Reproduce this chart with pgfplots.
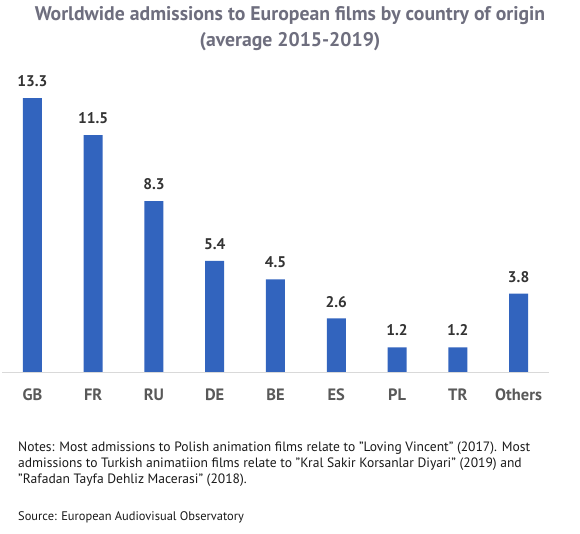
\documentclass[border=0pt]{standalone}
\usepackage{pgfplots}
\pgfplotsset{compat=1.18}
\usepackage{fontspec}
\setmainfont{PT Sans}
\definecolor{barblue}{RGB}{50,100,190}
\definecolor{titlegray}{RGB}{110,110,126}
\definecolor{tickgray}{RGB}{89,89,89}
\definecolor{valgray}{RGB}{51,51,51}
\definecolor{axisgray}{RGB}{217,217,217}
\newcommand{\q}{\symbol{34}}
\begin{document}
\begin{tikzpicture}
\useasboundingbox (0,0) rectangle (580bp,534bp);
\begin{axis}[
  at={(2bp,162bp)}, anchor=south west,
  scale only axis, width=547bp, height=288.4bp,
  xmin=-0.5, xmax=8.5, ymin=0, ymax=14,
  axis x line*=bottom, axis y line=none,
  x axis line style={draw=axisgray, line width=0.8bp, -},
  xtick=data,
  xticklabels={GB,FR,RU,DE,BE,ES,PL,TR,Others},
  major tick length=0pt,
  xticklabel style={font=\fontsize{16.5}{16.5}\selectfont\bfseries, text=tickgray, anchor=north, inner sep=0pt, yshift=-17bp},
  ybar, bar width=19bp,
  clip=false,
  nodes near coords,
  nodes near coords style={font=\fontsize{15.5}{15.5}\selectfont\bfseries, text=valgray, anchor=south, inner sep=0pt, yshift=11bp, /pgf/number format/.cd, fixed, fixed zerofill, precision=1, assume math mode=true},
]
\addplot[fill=barblue, draw=none] coordinates {(0,13.3) (1,11.5) (2,8.3) (3,5.4) (4,4.5) (5,2.6) (6,1.2) (7,1.2) (8,3.8)};
\end{axis}
\node[font=\fontsize{19.8}{26}\selectfont\bfseries, text=titlegray, align=center] at (290bp,505bp) {Worldwide admissions to European films by country of origin\\(average 2015-2019)};
\node[font=\fontsize{13.6}{16}\selectfont, text=black!90, anchor=north west, inner sep=0pt, align=left] at (18bp,92bp) {Notes: Most admissions to Polish animation films relate to \q Loving Vincent\q{} (2017). Most\\admissions to Turkish animatiion films relate to \q Kral Sakir Korsanlar Diyari\q{} (2019) and\\\q Rafadan Tayfa Dehliz Macerasi\q{} (2018).};
\node[font=\fontsize{12.5}{14}\selectfont, text=black!90, anchor=north west, inner sep=0pt] at (18bp,23bp) {Source: European Audiovisual Observatory};
\end{tikzpicture}
\end{document}
